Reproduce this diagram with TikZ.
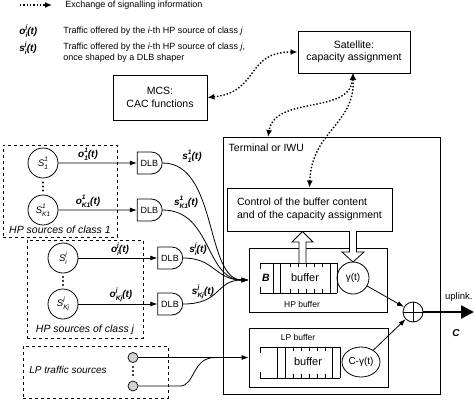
\documentclass[tikz,border=0pt]{standalone}
\usepackage{fontspec}
\setmainfont{Liberation Sans}
\usetikzlibrary{arrows.meta,shapes.geometric,shapes.misc}
\newcommand\sbsp[3]{#1\rlap{\raisebox{0.95ex}{\fontsize{6.5}{7}\selectfont #3}}\raisebox{-0.55ex}{\fontsize{6.5}{7}\selectfont #2}}
\begin{document}
\begin{tikzpicture}[x=1pt,y=-1pt,line width=0.8pt,
  font=\fontsize{10}{12}\selectfont,
  box/.style={draw,line width=0.9pt,inner sep=2pt,align=center,font=\fontsize{10.5}{12.5}\selectfont},
  src/.style={draw,circle,line width=0.8pt,minimum size=30pt,inner sep=0pt,font=\fontsize{9.5}{10}\selectfont\itshape},
  dlb/.style={draw,rounded rectangle,rounded rectangle left arc=none,line width=0.8pt,minimum width=25pt,minimum height=22pt,inner sep=0pt,font=\fontsize{9}{10}\selectfont},
  grp/.style={draw,dashed,line width=0.7pt,inner sep=0pt},
  flow/.style={line width=0.8pt,-{Latex[length=7pt,width=5pt]}},
  sig/.style={line width=1.4pt,dash pattern=on 1.4pt off 1.9pt,{Latex[length=7pt,width=6pt]}-{Latex[length=7pt,width=6pt]}},
  sigone/.style={line width=1.4pt,dash pattern=on 1.4pt off 1.9pt,-{Latex[length=7pt,width=6pt]}},
  lbl/.style={font=\fontsize{10}{12}\selectfont\bfseries\itshape,inner sep=1pt},
  small/.style={font=\fontsize{9}{11}\selectfont,inner sep=0pt},
  q/.style={line width=0.7pt},
]
\useasboundingbox (0,0) rectangle (474,400);

% legend
\coordinate (lg1) at (20,5);
\coordinate (lg2) at (52,5);
\draw[sigone] (lg1) -- (lg2);
\node[small,anchor=west] (lgt) at (65,5) {Exchange of signalling information};
\node[lbl,anchor=west] (lo) at (18,31) {\sbsp{o}{i}{j}(t)};
\node[small,anchor=west] (lot) at (63,31) {Traffic offered by the \textit{i}-th HP source of class \textit{j}};
\node[lbl,anchor=west] (ls) at (18,48) {\sbsp{s}{i}{j}(t)};
\node[small,anchor=west] (lst1) at (63,47) {Traffic offered by the \textit{i}-th HP source of class \textit{j},};
\node[small,anchor=west] (lst2) at (63,58) {once shaped by a DLB shaper};

% top boxes
\node[box,minimum width=112pt,minimum height=42pt] (sat) at (354,52) {Satellite:\\capacity assignment};
\node[box,minimum width=94pt,minimum height=45pt] (mcs) at (160,97.5) {MCS:\\CAC functions};

% terminal
\node[draw,line width=0.9pt,minimum width=217pt,minimum height=257pt] (term) at (331.5,265.5) {};
\node[anchor=west,font=\fontsize{10.5}{12}\selectfont] (termlbl) at (225,148) {Terminal or IWU};
\node[box,align=left,minimum width=165pt,minimum height=43pt] (ctrl) at (309.5,209.5) {Control of the buffer content\\and of the capacity assignment};

% HP buffer
\node[draw,line width=0.8pt,minimum width=138pt,minimum height=64pt] (hp) at (318,280) {};
\node[font=\fontsize{8.5}{10}\selectfont] (hplbl) at (302,304.5) {HP buffer};
\draw[q] (260,263) -- (337,263) (260,293) -- (337,293);
\draw[q] (260,263) -- ++(0,6) (260,293) -- ++(0,-6);
\foreach \x in {273,280,330,337} \draw[q] (\x,263) -- (\x,293);
\foreach \x in {290,298,306,314,322} \draw[q] (\x,263) -- ++(0,4) (\x,293) -- ++(0,-4);
\node[font=\fontsize{10.5}{12}\selectfont\bfseries\itshape] (B) at (266,278) {B};
\node[font=\fontsize{11}{12}\selectfont] (hpbuf) at (305,278) {buffer};
\node[draw,circle,line width=0.8pt,minimum size=32pt,inner sep=0pt] (gam) at (353,278) {γ(t)};

% LP buffer
\node[draw,line width=0.8pt,minimum width=139pt,minimum height=59pt] (lp) at (318.5,357.5) {};
\node[font=\fontsize{8.5}{10}\selectfont] (lplbl) at (298,337) {LP buffer};
\draw[q] (260,347) -- (340,347) (260,378) -- (340,378);
\draw[q] (260,347) -- ++(0,6) (260,378) -- ++(0,-6);
\foreach \x in {277,285,332,340} \draw[q] (\x,347) -- (\x,378);
\foreach \x in {293,301,309,317,325} \draw[q] (\x,347) -- ++(0,4) (\x,378) -- ++(0,-4);
\node[font=\fontsize{11}{12}\selectfont] (lpbuf) at (308,362) {buffer};
\node[draw,ellipse,line width=0.8pt,minimum width=38pt,minimum height=30pt,inner sep=0pt] (cg) at (361,362) {C-γ(t)};

% hollow arrows
\draw[line width=0.8pt,fill=white] (299,263) -- (299,242) -- (292,242) -- (302.5,231.5) -- (313,242) -- (306,242) -- (306,263);
\draw[line width=0.8pt,fill=white] (349.5,231) -- (349.5,252) -- (342,252) -- (353,262) -- (364,252) -- (356.5,252) -- (356.5,231);

% summation and uplink
\node[draw,circle,line width=0.8pt,minimum size=20pt,inner sep=0pt] (sum) at (413,312) {};
\draw[line width=0.8pt] (sum.north) -- (sum.south) (sum.west) -- (sum.east);
\draw[flow] (gam) -- (sum);
\draw[flow] (cg) -- (sum);
\coordinate (upend) at (474,312);
\draw[line width=2.6pt,-{Triangle[length=13pt,width=13pt]}] (sum.east) -- (upend);
\node[anchor=east,font=\fontsize{9.5}{11}\selectfont,inner sep=1pt] (upl) at (474,297) {uplink.};
\node[font=\fontsize{10}{12}\selectfont\bfseries\itshape] (cap) at (456,333) {C};

% signalling
\coordinate (satb) at (353,73);
\coordinate (termt) at (268,137);
\draw[sig] (mcs.east) .. controls (260,92) and (245,52) .. (sat.west);
\draw[sig] (satb) .. controls (350,115) and (275,95) .. (termt);
\draw[sig] (satb) .. controls (355,125) and (312,130) .. (ctrl.north);

% HP sources class 1
\node[grp,minimum width=114pt,minimum height=92pt] (g1) at (60,191) {};
\node[src] (s11) at (43,163) {\sbsp{S}{1}{1}};
\node[src] (sk1) at (43,210) {\sbsp{S}{K1}{1}};
\foreach \y in {182.5,186.5,190.5} \fill (43,\y) circle (1.1pt);
\node[font=\fontsize{10.5}{12}\selectfont\itshape] (g1lbl) at (60,229.5) {HP sources of class 1};
\node[dlb] (d1) at (149.5,163) {DLB};
\node[dlb] (d2) at (149.5,210) {DLB};
\draw[flow] (s11) -- (d1);
\draw[flow] (sk1) -- (d2);
\node[lbl] (o11) at (88,154) {\sbsp{o}{1}{1}(t)};
\node[lbl] (ok1) at (88,201) {\sbsp{o}{K1}{1}(t)};

% HP sources class j
\node[grp,minimum width=116pt,minimum height=98pt] (gj) at (85,289) {};
\node[src] (sij) at (63,258) {\sbsp{S}{i}{j}};
\node[src] (skj) at (63,304) {\sbsp{S}{Kj}{j}};
\foreach \y in {277,281,285} \fill (63,\y) circle (1.1pt);
\node[font=\fontsize{10.5}{12}\selectfont\itshape] (gjlbl) at (85,329.5) {HP sources of class j};
\node[dlb] (d3) at (170,258) {DLB};
\node[dlb] (d4) at (170,304) {DLB};
\draw[flow] (sij) -- (d3);
\draw[flow] (skj) -- (d4);
\node[lbl] (oij) at (120,249) {\sbsp{o}{i}{j}(t)};
\node[lbl] (okj) at (121,295) {\sbsp{o}{Kj}{j}(t)};

% shaped flows
\draw[flow] (d1.east) .. controls (218,163) and (205,280) .. (hp.west);
\draw[flow] (d2.east) .. controls (212,210) and (205,280) .. (hp.west);
\draw[flow] (d3.east) .. controls (215,258) and (215,280) .. (hp.west);
\draw[flow] (d4.east) .. controls (222,304) and (215,280) .. (hp.west);
\node[lbl] (s11l) at (192,156) {\sbsp{s}{1}{1}(t)};
\node[lbl] (sk1l) at (186,202) {\sbsp{s}{K1}{1}(t)};
\node[lbl] (sijl) at (198,249) {\sbsp{s}{i}{j}(t)};
\node[lbl] (skjl) at (203,292) {\sbsp{s}{Kj}{j}(t)};

% LP sources
\node[grp,minimum width=145pt,minimum height=52pt] (glp) at (95.5,372) {};
\node[font=\fontsize{10}{12}\selectfont\itshape] (glplbl) at (68,370) {LP traffic sources};
\node[circle,draw,line width=0.7pt,fill=gray!35,minimum size=10pt,inner sep=0pt] (l1) at (133,357.5) {};
\node[circle,draw,line width=0.7pt,fill=gray!35,minimum size=10pt,inner sep=0pt] (l2) at (133,386) {};
\foreach \y in {367,371,375} \fill (133,\y) circle (1.1pt);
\draw[flow] (l1) -- (lp.west);
\coordinate (lpjoin) at (215,357.5);
\draw[line width=0.8pt] (l2.east) -- (180,386) .. controls (195,386) and (192,357.5) .. (lpjoin);
\end{tikzpicture}
\end{document}
